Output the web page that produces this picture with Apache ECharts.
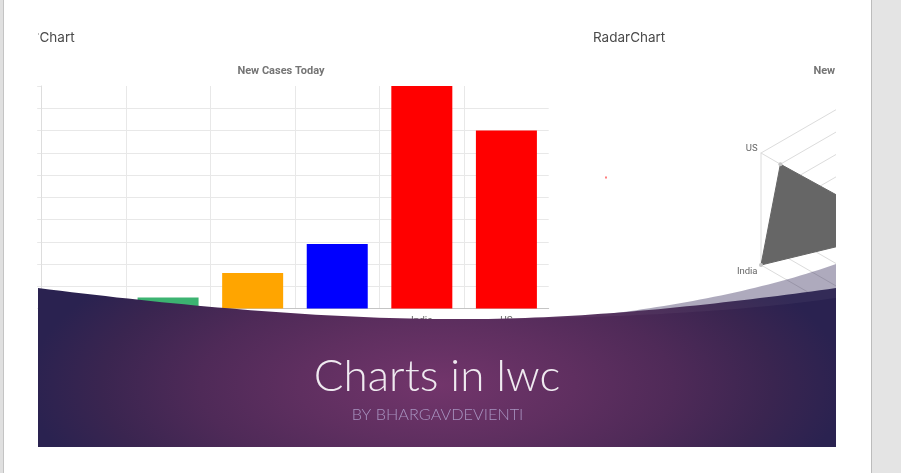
<!DOCTYPE html>
<html>
<head>
<meta charset="utf-8">
<style>html,body{margin:0;padding:0;background:#fff}#c{width:901px;height:473px}</style>
<script src="https://cdn.jsdelivr.net/npm/echarts@6/dist/echarts.min.js"></script>
</head>
<body>
<div id="c"></div>
<script>
// Names hidden behind the banner cannot be read, so they stay blank.
const categories = ['', '', '', '', 'India', 'US'];
const newCases = [200, 500, 1600, 2900, 10000, 8000];
const barColors = ['#3cb371', '#3cb371', '#ffa500', '#0000ff', '#ff0000', '#ff0000'];
const chartTitle = 'New Cases Today';
const slideTitle = 'Charts in lwc';
const slideSubtitle = 'BY BHARGAVDEVIENTI';
const valueMax = 10000;
const valueStep = 1000;

// Chart.js draws the radar clockwise from the top, ECharts counter-clockwise.
const radarOrder = [0, 5, 4, 3, 2, 1];

// Decorative slide artwork: samples a cubic curve into polygon vertices.
function curve(p0, p1, p2, p3) {
  const pts = [];
  for (let k = 0; k <= 40; k++) {
    const t = k / 40, u = 1 - t;
    pts.push([
      u*u*u*p0[0] + 3*u*u*t*p1[0] + 3*u*t*t*p2[0] + t*t*t*p3[0],
      u*u*u*p0[1] + 3*u*u*t*p1[1] + 3*u*t*t*p2[1] + t*t*t*p3[1]
    ]);
  }
  return pts;
}

const chart = echarts.init(document.getElementById('c'), null, {renderer: 'canvas'});
const GRID = '#e8e8e8';
const RING = '#dcdcdc';

const bannerLeft = curve([38,288],[188,307],[340,320],[470,319]);
const bannerRight = curve([470,319],[590,319],[730,303],[836,288]);
const bandLower = curve([470,319],[590,319],[730,313],[836,298]);
const swooshEdge = curve([560,319],[660,310],[760,291],[836,264]);

// The slide's glow is an ellipse: the polygon is stretched in its own
// coordinates and squeezed back, so that the gradient is squeezed with it.
const glowY = 385, glowSquash = 0.42;
const toGlow = p => [p[0], glowY + (p[1] - glowY) / glowSquash];

chart.setOption({
  animation: false,
  backgroundColor: '#ffffff',
  title: [
    {text: chartTitle, left: 276, top: 61, textAlign: 'center',
     textStyle: {fontFamily: 'Roboto', fontSize: 11, fontWeight: 'bold', color: '#757575'}},
    {text: chartTitle, left: 852, top: 61, textAlign: 'center',
     textStyle: {fontFamily: 'Roboto', fontSize: 11, fontWeight: 'bold', color: '#757575'}}
  ],
  grid: {left: 41.2, top: 86, width: 507.5, height: 222.5, containLabel: false},
  xAxis: {
    type: 'category', data: categories,
    axisTick: {show: false},
    axisLine: {show: true, lineStyle: {color: '#c4c4c4', width: 1}},
    axisLabel: {show: true, interval: 0, margin: 8, fontFamily: 'Roboto', fontSize: 10, color: '#666666'},
    splitLine: {show: true, showMinLine: true, showMaxLine: false, lineStyle: {color: GRID, width: 1}}
  },
  yAxis: {
    type: 'value', min: 0, max: valueMax, interval: valueStep,
    axisLine: {show: true, lineStyle: {color: '#dddddd', width: 1}},
    axisTick: {show: true, length: 4, lineStyle: {color: GRID}},
    axisLabel: {show: false},
    splitLine: {show: true, showMaxLine: false, lineStyle: {color: GRID, width: 1}}
  },
  radar: {
    center: [858, 209], radius: 112, startAngle: 90, splitNumber: 5,
    shape: 'polygon',
    indicator: radarOrder.map(i => ({name: categories[i], max: valueMax})),
    axisName: {
      fontFamily: 'Roboto', fontSize: 9.5, color: '#666666',
      formatter: n => n === 'India' ? '{india|India}' : n === 'US' ? '{us|US}' : n,
      rich: {
        india: {fontFamily: 'Roboto', fontSize: 9.5, color: '#666666', padding: [10, 0, 0, 0]},
        us: {fontFamily: 'Roboto', fontSize: 9.5, color: '#666666', padding: [0, 0, 4, 0]}
      }
    },
    nameGap: 4,
    axisLine: {show: true, lineStyle: {color: RING, width: 1}},
    splitLine: {show: true, lineStyle: {color: RING, width: 1}},
    splitArea: {show: false},
    axisTick: {show: false},
    axisLabel: {show: false}
  },
  series: [
    {type: 'bar', barWidth: 61,
     data: newCases.map((v, i) => ({value: v, itemStyle: {color: barColors[i]}}))},
    {type: 'radar', symbol: 'circle', symbolSize: 4,
     itemStyle: {color: '#c4c4c4'},
     lineStyle: {color: '#666666', width: 1},
     areaStyle: {color: '#666666', opacity: 1},
     data: [{value: radarOrder.map(i => newCases[i])}]}
  ],
  graphic: {elements: [
    {type: 'rect', z: 60, shape: {x: 836, y: 0, width: 35, height: 473}, style: {fill: '#ffffff'}},
    {type: 'rect', z: 61, shape: {x: 871, y: 0, width: 30, height: 473}, style: {fill: '#e4e4e4'}},
    {type: 'rect', z: 62, shape: {x: 871, y: 0, width: 1, height: 473}, style: {fill: '#bcbcbc'}},
    {type: 'rect', z: 61, shape: {x: 0, y: 0, width: 3, height: 473}, style: {fill: '#e0e0e0'}},
    {type: 'rect', z: 62, shape: {x: 3, y: 0, width: 1, height: 473}, style: {fill: '#c4c4c4'}},
    {type: 'rect', z: 62, shape: {x: 38, y: 33.5, width: 1, height: 1}, style: {fill: '#777777'}},
    {type: 'rect', z: 62, shape: {x: 605, y: 176.5, width: 2, height: 2}, style: {fill: '#ff8080'}},
    {type: 'text', z: 62, x: 39.5, y: 30.5, style: {text: 'Chart', fontFamily: 'Inter', fontSize: 13.5, letterSpacing: 0.3, fill: '#4a4a4a'}},
    {type: 'text', z: 62, x: 593, y: 30.5, style: {text: 'RadarChart', fontFamily: 'Inter', fontSize: 13.5, letterSpacing: 0.3, fill: '#4a4a4a'}},
    {type: 'polygon', z: 70, shape: {points: swooshEdge.concat([[836,292],[560,320]])},
     style: {fill: 'rgba(52,42,90,0.4)'}},
    {type: 'polygon', z: 71, originX: 437, originY: glowY, scaleY: glowSquash,
     shape: {points: bannerLeft.concat(bannerRight, [[836,447],[38,447]]).map(toGlow)},
     style: {fill: new echarts.graphic.RadialGradient(437, glowY, 430, [
       {offset: 0, color: '#72356b'},
       {offset: 0.32, color: '#5f2f60'},
       {offset: 0.55, color: '#4f2a58'},
       {offset: 0.78, color: '#3a2550'},
       {offset: 0.95, color: '#2a2250'},
       {offset: 1, color: '#2a2250'}
     ], true)}},
    {type: 'polygon', z: 72, shape: {points: bannerRight.concat(bandLower.slice().reverse())},
     style: {fill: 'rgba(255,255,255,0.045)'}},
    {type: 'text', z: 73, x: 437, y: 376.5, style: {
       text: slideTitle, fontFamily: 'Lato', fontWeight: 300, fontSize: 44,
       fill: '#efeaf0', align: 'center', verticalAlign: 'middle'}},
    {type: 'text', z: 73, x: 437.5, y: 414.5, style: {
       text: slideSubtitle, fontFamily: 'Lato', fontWeight: 300, fontSize: 16.3,
       fill: '#a893c0', align: 'center', verticalAlign: 'middle'}}
  ]}
});
</script>
</body>
</html>
